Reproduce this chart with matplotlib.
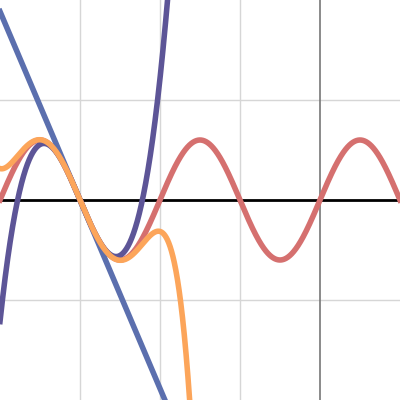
import math

import numpy as np
import matplotlib.pyplot as plt

# Taylor approximations of sin(x) about x0 = -3*pi
x0 = -3 * np.pi
orders = [1, 3, 5]
colors_series = ["#5b6fae", "#5d5597", "#fca55a"]
sine_color = "#d5706f"

x = np.linspace(-4 * np.pi, np.pi, 2000)
t = x - x0


def taylor(t, n):
    # sin(x0 + t) with sin(x0)=0, cos(x0)=-1
    total = np.zeros_like(t)
    sign = -1.0
    for k in range(1, n + 1, 2):
        total += sign * t ** k / math.factorial(k)
        sign = -sign
    return total


fig = plt.figure(figsize=(4, 4), dpi=100)
ax = fig.add_axes([0, 0, 1, 1])
ymax = 200 / 60
ax.set_xlim(-4 * np.pi, np.pi)
ax.set_ylim(-ymax, ymax)

for gx in np.arange(-3, 0) * np.pi:
    ax.axvline(gx, color="#d6d6d6", lw=1, zorder=0)
for gy in [-100 / 60, 100 / 60]:
    ax.axhline(gy, color="#d6d6d6", lw=1, zorder=0)
ax.axvline(0, color="#777777", lw=1.2, zorder=1)
ax.axhline(0, color="black", lw=2, zorder=1)

ax.plot(x, np.sin(x), color=sine_color, lw=4, zorder=2)
for n, c in zip(orders, colors_series):
    ax.plot(x, taylor(t, n), color=c, lw=4, zorder=3)

ax.set_xticks([])
ax.set_yticks([])
for s in ax.spines.values():
    s.set_visible(False)

fig.savefig("out.png", dpi=100)
